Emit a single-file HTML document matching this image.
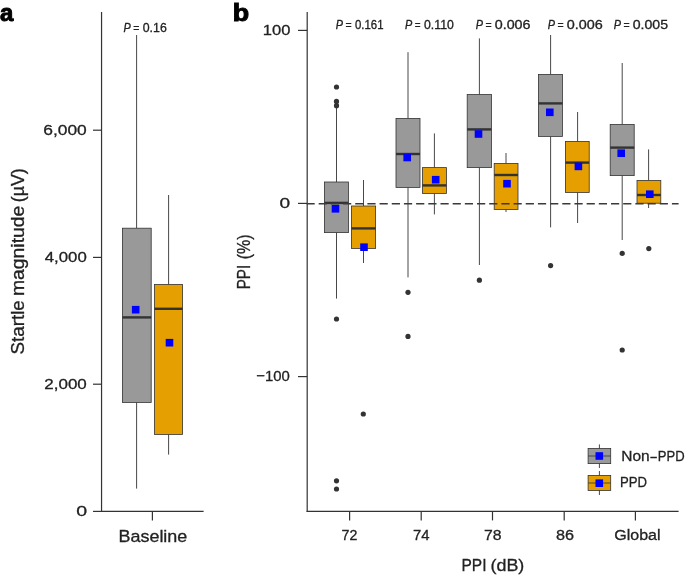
<!DOCTYPE html>
<html lang="en"><head><meta charset="utf-8"><title>Figure</title>
<style>html,body{margin:0;padding:0;background:#fff}svg{display:block}</style>
</head><body>
<svg width="685" height="576" viewBox="0 0 685 576">
<rect x="0" y="0" width="685" height="576" fill="#ffffff"/>
<line x1="101.55" y1="12" x2="101.55" y2="512" stroke="#333333" stroke-width="1.2"/>
<line x1="101" y1="511.4" x2="203.6" y2="511.4" stroke="#333333" stroke-width="1.2"/>
<line x1="93" y1="511.4" x2="101.5" y2="511.4" stroke="#333333" stroke-width="1.2"/>
<line x1="93" y1="384.2" x2="101.5" y2="384.2" stroke="#333333" stroke-width="1.2"/>
<line x1="93" y1="257.4" x2="101.5" y2="257.4" stroke="#333333" stroke-width="1.2"/>
<line x1="93" y1="130.2" x2="101.5" y2="130.2" stroke="#333333" stroke-width="1.2"/>
<line x1="152.4" y1="511.4" x2="152.4" y2="520.4" stroke="#333333" stroke-width="1.2"/>
<line x1="136.6" y1="35" x2="136.6" y2="228.2" stroke="#333333" stroke-width="0.9"/>
<line x1="136.6" y1="402.4" x2="136.6" y2="488.6" stroke="#333333" stroke-width="0.9"/>
<rect x="122.40" y="228.20" width="28.80" height="174.20" fill="#999999" stroke="#333333" stroke-width="0.8"/>
<line x1="122.40" y1="317.4" x2="151.20" y2="317.4" stroke="#333333" stroke-width="2.4"/>
<line x1="168.6" y1="195" x2="168.6" y2="284.4" stroke="#333333" stroke-width="0.9"/>
<line x1="168.6" y1="434.4" x2="168.6" y2="454.6" stroke="#333333" stroke-width="0.9"/>
<rect x="154.40" y="284.40" width="28.20" height="150.00" fill="#E69F00" stroke="#333333" stroke-width="0.8"/>
<line x1="154.40" y1="308.8" x2="182.60" y2="308.8" stroke="#333333" stroke-width="2.4"/>
<rect x="131.90" y="305.90" width="7.6" height="7.6" fill="#0000FF"/>
<rect x="165.70" y="338.90" width="7.6" height="7.6" fill="#0000FF"/>
<line x1="307.2" y1="12" x2="307.2" y2="512" stroke="#333333" stroke-width="1.2"/>
<line x1="306.6" y1="511.4" x2="678.6" y2="511.4" stroke="#333333" stroke-width="1.2"/>
<line x1="298" y1="30.4" x2="307.2" y2="30.4" stroke="#333333" stroke-width="1.2"/>
<line x1="298" y1="203.4" x2="307.2" y2="203.4" stroke="#333333" stroke-width="1.2"/>
<line x1="298" y1="376.6" x2="307.2" y2="376.6" stroke="#333333" stroke-width="1.2"/>
<line x1="349.6" y1="511.4" x2="349.6" y2="520.4" stroke="#333333" stroke-width="1.2"/>
<line x1="421.2" y1="511.4" x2="421.2" y2="520.4" stroke="#333333" stroke-width="1.2"/>
<line x1="492.5" y1="511.4" x2="492.5" y2="520.4" stroke="#333333" stroke-width="1.2"/>
<line x1="564.2" y1="511.4" x2="564.2" y2="520.4" stroke="#333333" stroke-width="1.2"/>
<line x1="635.4" y1="511.4" x2="635.4" y2="520.4" stroke="#333333" stroke-width="1.2"/>
<line x1="336.5" y1="107" x2="336.5" y2="182" stroke="#333333" stroke-width="0.9"/>
<line x1="336.5" y1="232.6" x2="336.5" y2="298.6" stroke="#333333" stroke-width="0.9"/>
<rect x="324.40" y="182.00" width="24.00" height="50.60" fill="#999999" stroke="#333333" stroke-width="0.8"/>
<line x1="324.40" y1="202.9" x2="348.40" y2="202.9" stroke="#333333" stroke-width="2.4"/>
<circle cx="336.5" cy="87" r="2.6" fill="#333333"/>
<circle cx="336.5" cy="101.4" r="2.6" fill="#333333"/>
<circle cx="336.5" cy="105.7" r="2.6" fill="#333333"/>
<circle cx="336.5" cy="319" r="2.6" fill="#333333"/>
<circle cx="336.5" cy="480.8" r="2.6" fill="#333333"/>
<circle cx="336.5" cy="489" r="2.6" fill="#333333"/>
<line x1="363.5" y1="180" x2="363.5" y2="206" stroke="#333333" stroke-width="0.9"/>
<line x1="363.5" y1="248.4" x2="363.5" y2="263" stroke="#333333" stroke-width="0.9"/>
<rect x="351.40" y="206.00" width="24.20" height="42.40" fill="#E69F00" stroke="#333333" stroke-width="0.8"/>
<line x1="351.40" y1="228.4" x2="375.60" y2="228.4" stroke="#333333" stroke-width="2.4"/>
<circle cx="363.3" cy="414" r="2.6" fill="#333333"/>
<line x1="408" y1="52.2" x2="408" y2="118.4" stroke="#333333" stroke-width="0.9"/>
<line x1="408" y1="187.4" x2="408" y2="277.4" stroke="#333333" stroke-width="0.9"/>
<rect x="396.00" y="118.40" width="24.00" height="69.00" fill="#999999" stroke="#333333" stroke-width="0.8"/>
<line x1="396.00" y1="154" x2="420.00" y2="154" stroke="#333333" stroke-width="2.4"/>
<circle cx="408" cy="292.3" r="2.6" fill="#333333"/>
<circle cx="408" cy="336.4" r="2.6" fill="#333333"/>
<line x1="434.4" y1="133.4" x2="434.4" y2="167.6" stroke="#333333" stroke-width="0.9"/>
<line x1="434.4" y1="193.4" x2="434.4" y2="214.4" stroke="#333333" stroke-width="0.9"/>
<rect x="422.40" y="167.60" width="24.00" height="25.80" fill="#E69F00" stroke="#333333" stroke-width="0.8"/>
<line x1="422.40" y1="185.4" x2="446.40" y2="185.4" stroke="#333333" stroke-width="2.4"/>
<line x1="479.4" y1="38.4" x2="479.4" y2="94.5" stroke="#333333" stroke-width="0.9"/>
<line x1="479.4" y1="167.6" x2="479.4" y2="265" stroke="#333333" stroke-width="0.9"/>
<rect x="467.20" y="94.50" width="24.20" height="73.10" fill="#999999" stroke="#333333" stroke-width="0.8"/>
<line x1="467.20" y1="129.4" x2="491.40" y2="129.4" stroke="#333333" stroke-width="2.4"/>
<circle cx="479.4" cy="280.2" r="2.6" fill="#333333"/>
<line x1="506" y1="153" x2="506" y2="163.4" stroke="#333333" stroke-width="0.9"/>
<line x1="506" y1="209.4" x2="506" y2="212" stroke="#333333" stroke-width="0.9"/>
<rect x="494.20" y="163.40" width="23.80" height="46.00" fill="#E69F00" stroke="#333333" stroke-width="0.8"/>
<line x1="494.20" y1="175" x2="518.00" y2="175" stroke="#333333" stroke-width="2.4"/>
<line x1="550.6" y1="35" x2="550.6" y2="74.4" stroke="#333333" stroke-width="0.9"/>
<line x1="550.6" y1="136.4" x2="550.6" y2="227.4" stroke="#333333" stroke-width="0.9"/>
<rect x="538.40" y="74.40" width="24.00" height="62.00" fill="#999999" stroke="#333333" stroke-width="0.8"/>
<line x1="538.40" y1="103.4" x2="562.40" y2="103.4" stroke="#333333" stroke-width="2.4"/>
<circle cx="550.6" cy="265.6" r="2.6" fill="#333333"/>
<line x1="577.6" y1="112" x2="577.6" y2="141.4" stroke="#333333" stroke-width="0.9"/>
<line x1="577.6" y1="192.4" x2="577.6" y2="223" stroke="#333333" stroke-width="0.9"/>
<rect x="565.40" y="141.40" width="23.80" height="51.00" fill="#E69F00" stroke="#333333" stroke-width="0.8"/>
<line x1="565.40" y1="162.6" x2="589.20" y2="162.6" stroke="#333333" stroke-width="2.4"/>
<line x1="622.2" y1="63" x2="622.2" y2="124.4" stroke="#333333" stroke-width="0.9"/>
<line x1="622.2" y1="175.6" x2="622.2" y2="240" stroke="#333333" stroke-width="0.9"/>
<rect x="610.20" y="124.40" width="24.00" height="51.20" fill="#999999" stroke="#333333" stroke-width="0.8"/>
<line x1="610.20" y1="147.6" x2="634.20" y2="147.6" stroke="#333333" stroke-width="2.4"/>
<circle cx="622.2" cy="253.4" r="2.6" fill="#333333"/>
<circle cx="622.2" cy="350" r="2.6" fill="#333333"/>
<line x1="648.6" y1="149.4" x2="648.6" y2="180.4" stroke="#333333" stroke-width="0.9"/>
<line x1="648.6" y1="203.2" x2="648.6" y2="208" stroke="#333333" stroke-width="0.9"/>
<rect x="637.00" y="180.40" width="23.80" height="22.80" fill="#E69F00" stroke="#333333" stroke-width="0.8"/>
<line x1="637.00" y1="195" x2="660.80" y2="195" stroke="#333333" stroke-width="2.4"/>
<circle cx="648.8" cy="248.6" r="2.6" fill="#333333"/>
<rect x="331.70" y="205.00" width="7.6" height="7.6" fill="#0000FF"/>
<rect x="360.20" y="243.40" width="7.6" height="7.6" fill="#0000FF"/>
<rect x="403.40" y="153.70" width="7.6" height="7.6" fill="#0000FF"/>
<rect x="431.90" y="175.90" width="7.6" height="7.6" fill="#0000FF"/>
<rect x="474.70" y="130.20" width="7.6" height="7.6" fill="#0000FF"/>
<rect x="503.20" y="179.90" width="7.6" height="7.6" fill="#0000FF"/>
<rect x="546.00" y="108.50" width="7.6" height="7.6" fill="#0000FF"/>
<rect x="574.60" y="162.60" width="7.6" height="7.6" fill="#0000FF"/>
<rect x="617.40" y="149.40" width="7.6" height="7.6" fill="#0000FF"/>
<rect x="646.00" y="190.40" width="7.6" height="7.6" fill="#0000FF"/>
<line x1="306.5" y1="203.7" x2="678.6" y2="203.7" stroke="#3a3a3a" stroke-width="1.6" stroke-dasharray="8.2 3.98"/>
<line x1="599.4" y1="444.4" x2="599.4" y2="468" stroke="#333333" stroke-width="0.9"/>
<rect x="588.1" y="448.4" width="22.6" height="15.20" fill="#999999" stroke="#333333" stroke-width="0.8"/>
<line x1="588.1" y1="456" x2="610.7" y2="456" stroke="#333333" stroke-width="0.8"/>
<rect x="595.50" y="452.20" width="7.6" height="7.6" fill="#0000FF"/>
<line x1="599.4" y1="471" x2="599.4" y2="495" stroke="#333333" stroke-width="0.9"/>
<rect x="588.1" y="475.4" width="22.6" height="15.00" fill="#E69F00" stroke="#333333" stroke-width="0.8"/>
<line x1="588.1" y1="483" x2="610.7" y2="483" stroke="#333333" stroke-width="0.8"/>
<rect x="595.50" y="479.40" width="7.6" height="7.6" fill="#0000FF"/>
<g font-family="&quot;Liberation Sans&quot;, Arial, sans-serif">
<text y="32.1" font-size="12.2" fill="#222222" stroke="#222222" stroke-width="0.3"><tspan x="123.50" textLength="7.25" lengthAdjust="spacingAndGlyphs" font-style="italic">P</tspan> <tspan x="133.25" textLength="6.13" lengthAdjust="spacingAndGlyphs">=</tspan> <tspan x="142.75" textLength="24.02" lengthAdjust="spacingAndGlyphs">0.16</tspan></text>
<text y="28.6" font-size="12.2" fill="#222222" stroke="#222222" stroke-width="0.3"><tspan x="335.75" textLength="7.25" lengthAdjust="spacingAndGlyphs" font-style="italic">P</tspan> <tspan x="345.50" textLength="6.13" lengthAdjust="spacingAndGlyphs">=</tspan> <tspan x="355.00" textLength="28.51" lengthAdjust="spacingAndGlyphs">0.161</tspan></text>
<text y="28.6" font-size="12.2" fill="#222222" stroke="#222222" stroke-width="0.3"><tspan x="405.00" textLength="7.25" lengthAdjust="spacingAndGlyphs" font-style="italic">P</tspan> <tspan x="414.75" textLength="5.81" lengthAdjust="spacingAndGlyphs">=</tspan> <tspan x="424.00" textLength="29.77" lengthAdjust="spacingAndGlyphs">0.110</tspan></text>
<text y="28.6" font-size="12.2" fill="#222222" stroke="#222222" stroke-width="0.3"><tspan x="475.75" textLength="7.26" lengthAdjust="spacingAndGlyphs" font-style="italic">P</tspan> <tspan x="485.50" textLength="6.13" lengthAdjust="spacingAndGlyphs">=</tspan> <tspan x="494.75" textLength="35.77" lengthAdjust="spacingAndGlyphs">0.006</tspan></text>
<text y="28.6" font-size="12.2" fill="#222222" stroke="#222222" stroke-width="0.3"><tspan x="547.75" textLength="7.26" lengthAdjust="spacingAndGlyphs" font-style="italic">P</tspan> <tspan x="557.50" textLength="6.13" lengthAdjust="spacingAndGlyphs">=</tspan> <tspan x="566.75" textLength="36.02" lengthAdjust="spacingAndGlyphs">0.006</tspan></text>
<text y="28.6" font-size="12.2" fill="#222222" stroke="#222222" stroke-width="0.3"><tspan x="613.75" textLength="7.26" lengthAdjust="spacingAndGlyphs" font-style="italic">P</tspan> <tspan x="623.50" textLength="6.13" lengthAdjust="spacingAndGlyphs">=</tspan> <tspan x="632.75" textLength="35.27" lengthAdjust="spacingAndGlyphs">0.005</tspan></text>
<text y="135.2" font-size="15.4" fill="#222222" stroke="#222222" stroke-width="0.3"><tspan x="43.25" textLength="43.54" lengthAdjust="spacingAndGlyphs">6,000</tspan></text>
<text y="262.3" font-size="15.4" fill="#222222" stroke="#222222" stroke-width="0.3"><tspan x="44.75" textLength="42.01" lengthAdjust="spacingAndGlyphs">4,000</tspan></text>
<text y="389.1" font-size="15.4" fill="#222222" stroke="#222222" stroke-width="0.3"><tspan x="44.25" textLength="42.54" lengthAdjust="spacingAndGlyphs">2,000</tspan></text>
<text y="516.1" font-size="15.4" fill="#222222" stroke="#222222" stroke-width="0.3"><tspan x="76.25" textLength="10.87" lengthAdjust="spacingAndGlyphs">0</tspan></text>
<text y="35.1" font-size="15.4" fill="#222222" stroke="#222222" stroke-width="0.3"><tspan x="262.75" textLength="27.59" lengthAdjust="spacingAndGlyphs">100</tspan></text>
<text y="208.2" font-size="15.4" fill="#222222" stroke="#222222" stroke-width="0.3"><tspan x="279.50" textLength="10.62" lengthAdjust="spacingAndGlyphs">0</tspan></text>
<text y="381.3" font-size="15.4" fill="#222222" stroke="#222222" stroke-width="0.3"><tspan x="256.25" textLength="33.54" lengthAdjust="spacingAndGlyphs">−100</tspan></text>
<text y="540.3" font-size="15.4" fill="#222222" stroke="#222222" stroke-width="0.3"><tspan x="341.50" textLength="15.84" lengthAdjust="spacingAndGlyphs">72</tspan></text>
<text y="540.3" font-size="15.4" fill="#222222" stroke="#222222" stroke-width="0.3"><tspan x="413.00" textLength="16.56" lengthAdjust="spacingAndGlyphs">74</tspan></text>
<text y="540.3" font-size="15.4" fill="#222222" stroke="#222222" stroke-width="0.3"><tspan x="484.00" textLength="17.58" lengthAdjust="spacingAndGlyphs">78</tspan></text>
<text y="540.3" font-size="15.4" fill="#222222" stroke="#222222" stroke-width="0.3"><tspan x="556.00" textLength="18.06" lengthAdjust="spacingAndGlyphs">86</tspan></text>
<text y="540.3" font-size="15.4" fill="#222222" stroke="#222222" stroke-width="0.3"><tspan x="614.25" textLength="46.30" lengthAdjust="spacingAndGlyphs">Global</tspan></text>
<text y="542.1" font-size="16.4" fill="#222222" stroke="#222222" stroke-width="0.3"><tspan x="118.50" textLength="68.81" lengthAdjust="spacingAndGlyphs">Baseline</tspan></text>
<text y="571.0" font-size="16.9" fill="#222222" stroke="#222222" stroke-width="0.3"><tspan x="461.50" textLength="25.00" lengthAdjust="spacingAndGlyphs">PPI</tspan> <tspan x="490.50" textLength="33.85" lengthAdjust="spacingAndGlyphs">(dB)</tspan></text>
<text transform="translate(249.5,0) rotate(-90)" y="0" font-size="17.6" fill="#222222" stroke="#222222" stroke-width="0.3"><tspan x="-289.25" textLength="24.45" lengthAdjust="spacingAndGlyphs">PPI</tspan> <tspan x="-259.25" textLength="24.85" lengthAdjust="spacingAndGlyphs">(%)</tspan></text>
<text transform="translate(24.0,0) rotate(-90)" y="0" font-size="17.6" fill="#222222" stroke="#222222" stroke-width="0.3"><tspan x="-354.50" textLength="54.28" lengthAdjust="spacingAndGlyphs">Startle</tspan> <tspan x="-296.00" textLength="90.29" lengthAdjust="spacingAndGlyphs">magnitude</tspan> <tspan x="-202.25" textLength="33.87" lengthAdjust="spacingAndGlyphs">(µV)</tspan></text>
<text y="460.8" font-size="15.5" fill="#222222" stroke="#222222" stroke-width="0.3"><tspan x="621.25" textLength="28.42" lengthAdjust="spacingAndGlyphs">Non</tspan><tspan x="650.50" textLength="6.26" lengthAdjust="spacingAndGlyphs">–</tspan><tspan x="657.75" textLength="26.83" lengthAdjust="spacingAndGlyphs">PPD</tspan></text>
<text y="487.0" font-size="15.5" fill="#222222" stroke="#222222" stroke-width="0.3"><tspan x="620.00" textLength="27.06" lengthAdjust="spacingAndGlyphs">PPD</tspan></text>
<text y="20.9" font-size="23.0" fill="#000000" stroke="#000000" stroke-width="1.0" font-weight="bold"><tspan x="-0.00" textLength="13.27" lengthAdjust="spacingAndGlyphs">a</tspan></text>
<text y="20.9" font-size="24.0" fill="#000000" stroke="#000000" stroke-width="1.0" font-weight="bold"><tspan x="232.75" textLength="16.42" lengthAdjust="spacingAndGlyphs">b</tspan></text>
</g>
</svg>
</body></html>
